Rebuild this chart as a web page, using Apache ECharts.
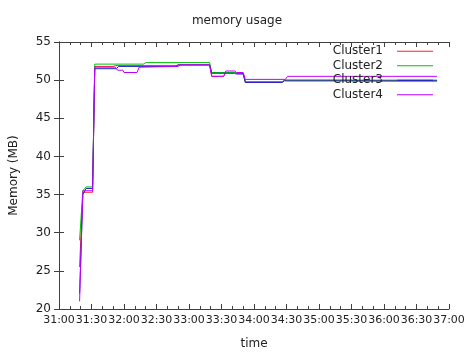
<!DOCTYPE html>
<html><head><meta charset="utf-8">
<script src="https://cdn.jsdelivr.net/npm/echarts@6/dist/echarts.min.js"></script>
<style>html,body{margin:0;padding:0;background:#fff}#c{width:474px;height:355px}</style>
</head><body><div id="c"></div>
<script>
// x tick labels (mm:ss), axis starts at 31:00
const tickLabels = ['31:00','31:30','32:00','32:30','33:00','33:30','34:00','34:30','35:00','35:30','36:00','36:30','37:00'];
const seriesNames = ['Cluster1','Cluster2','Cluster3','Cluster4'];

// sample times (mm:ss) and memory values (MB) per cluster
const c1Times  = ['31:19','31:22','31:31','31:33','31:50','31:52','32:48','32:50','33:19','33:21','33:32','33:34','33:42','33:44','33:50','33:52','34:26','34:28','36:49'];
const c1Values = [25.5, 35.3, 35.3, 51.8, 51.8, 51.9, 51.9, 52.0, 52.0, 50.5, 50.5, 51.0, 51.0, 50.9, 50.9, 49.7, 49.7, 50.0, 50.0];

const c2Times  = ['31:19','31:22','31:25','31:31','31:33','32:18','32:20','33:19','33:21','33:42','33:44','33:50','33:52','34:26','34:28','35:30','35:32','36:49'];
const c2Values = [29.0, 35.5, 36.0, 36.0, 52.1, 52.1, 52.3, 52.3, 51.0, 51.0, 50.9, 50.9, 49.8, 49.8, 50.0, 50.0, 49.9, 49.9];

const c3Times  = ['31:19','31:22','31:25','31:31','31:33','31:53','31:55','32:48','32:50','33:19','33:21','33:42','33:44','33:50','33:52','34:26','34:28','36:49'];
const c3Values = [22.0, 35.0, 35.8, 35.8, 51.5, 51.5, 51.8, 51.8, 52.0, 52.0, 50.9, 50.9, 50.8, 50.8, 49.7, 49.7, 49.9, 49.9];

const c4Times  = ['31:19','31:22','31:31','31:33','31:52','31:54','31:59','32:00','32:12','32:14','32:50','32:52','33:19','33:21','33:32','33:34','33:42','33:44','33:50','33:52','34:29','34:31','36:49'];
const c4Values = [21.0, 35.5, 35.5, 51.7, 51.7, 51.3, 51.3, 51.0, 51.0, 51.7, 51.8, 52.0, 52.0, 50.5, 50.5, 51.2, 51.2, 51.0, 51.0, 50.1, 50.1, 50.5, 50.5];

const colors = ['#ff2020', '#00c000', '#2020d0', '#c000ff'];

function toSec(t){ const [m,s]=t.split(':').map(Number); return (m-31)*60+s; }
const allTimes=[c1Times,c2Times,c3Times,c4Times], allValues=[c1Values,c2Values,c3Values,c4Values];

const font='DejaVu Sans';
const chart = echarts.init(document.getElementById('c'));
const tickCommon = {
  axisLine:{show:true,lineStyle:{color:'#404040',width:1}},
  axisTick:{show:true,inside:true,length:5,lineStyle:{color:'#404040'}},
  splitLine:{show:false}
};
chart.setOption({
  animation:false,
  backgroundColor:'#fff',
  color:colors,
  title:{text:'memory usage',left:'center',top:10,textStyle:{fontFamily:font,fontSize:12,fontWeight:'normal',color:'#222'}},
  legend:{orient:'vertical',right:36,top:40,align:'right',itemWidth:36,itemHeight:8,itemGap:2,
    icon:'path://M0,3.4 L36,3.4 L36,4.6 L0,4.6 Z',
    itemStyle:{borderWidth:0},
    textStyle:{fontFamily:font,fontSize:12,color:'#222',padding:[0,9,0,0],lineHeight:12.5},
    data:seriesNames.map((n,i)=>({name:n,itemStyle:{color:colors[i],borderWidth:0}}))},
  grid:{left:59,right:25,top:42,bottom:46},
  xAxis:[
    Object.assign({type:'value',min:0,max:360,interval:30,position:'bottom',
      name:'time',nameLocation:'middle',nameGap:29,nameTextStyle:{fontFamily:font,fontSize:12,color:'#222'},
      minorTick:{show:true,splitNumber:3,length:3,lineStyle:{color:'#404040'}},
      axisLabel:{fontFamily:font,fontSize:11,color:'#222',margin:6,showMinLabel:true,showMaxLabel:true,hideOverlap:false,interval:0,
        formatter:(v)=>tickLabels[Math.round(v/30)]}},tickCommon),
    Object.assign({type:'value',min:0,max:360,interval:30,position:'top',
      minorTick:{show:true,splitNumber:3,length:3,lineStyle:{color:'#404040'}},
      axisLabel:{show:false}},tickCommon)
  ],
  yAxis:[
    Object.assign({type:'value',min:20,max:55,interval:5,position:'left',
      name:'Memory (MB)',nameLocation:'middle',nameGap:39,nameTextStyle:{fontFamily:font,fontSize:12,color:'#222'},
      axisLabel:{fontFamily:font,fontSize:12,color:'#222',margin:8}},tickCommon),
    Object.assign({type:'value',min:20,max:55,interval:5,position:'right',axisLabel:{show:false}},tickCommon)
  ],
  series: seriesNames.map((n,i)=>({
    name:n,type:'line',xAxisIndex:0,yAxisIndex:0,showSymbol:false,symbol:'none',
    color:colors[i],
    lineStyle:{color:colors[i],width:1},itemStyle:{color:colors[i]},
    data: allTimes[i].map((t,j)=>[toSec(t),allValues[i][j]])
  }))
});
</script></body></html>
